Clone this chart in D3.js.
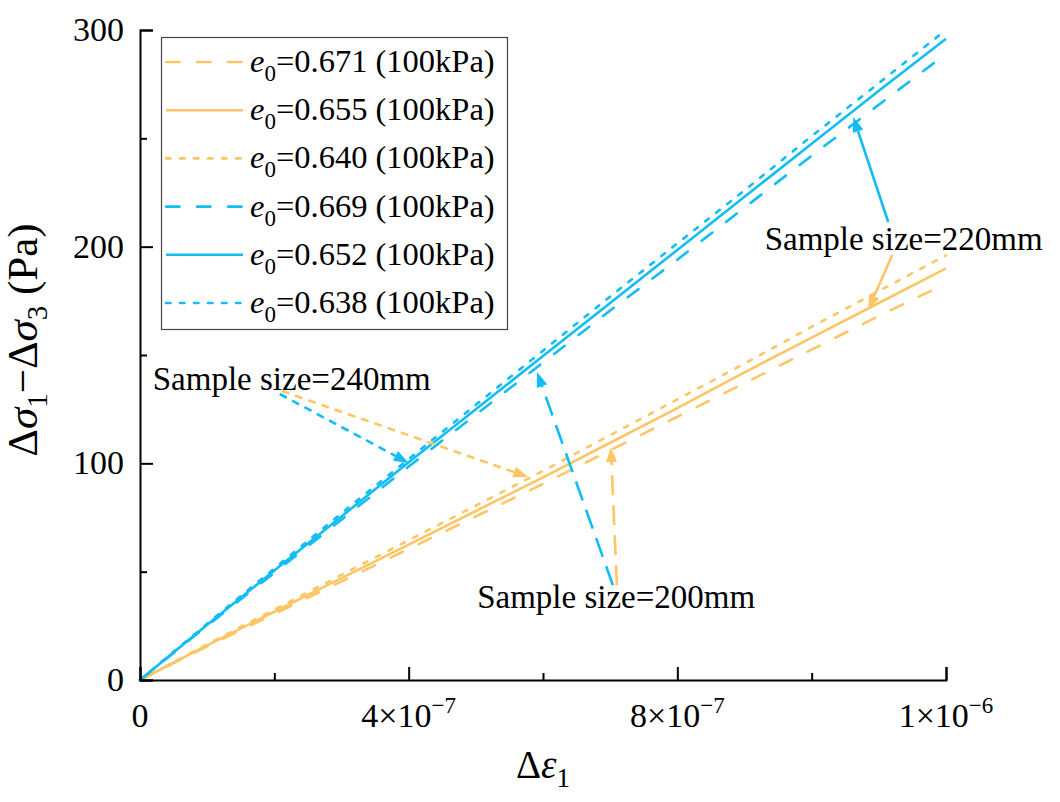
<!DOCTYPE html>
<html>
<head>
<meta charset="utf-8">
<script src="https://cdn.jsdelivr.net/npm/d3@7/dist/d3.min.js"></script>
<style>
  body { margin: 0; background: #fff; }
  text { font-family: "Liberation Serif", "Times New Roman", serif; fill: #000; }
</style>
</head>
<body>
<svg id="chart" width="1060" height="802"></svg>
<script>
// strain values (x), shared by every series
var strain = [0, 1e-7, 2e-7, 3e-7, 4e-7, 5e-7, 6e-7, 7e-7, 8e-7, 9e-7, 1e-6, 1.1e-6, 1.2e-6];

// deviator stress (Pa)
var e671 = [0, 15.5, 30.5, 45.5, 60.5, 75.5, 90.5, 106, 121.5, 137, 152.5, 168, 183];
var e655 = [0, 16, 31.5, 47, 62.5, 78, 93.5, 109.5, 125.5, 142, 158, 174, 190];
var e640 = [0, 16.5, 32.5, 48.5, 64.5, 80.5, 96.5, 113, 129.5, 146, 163, 179.5, 196];
var e669 = [0, 25, 49.5, 74, 98.5, 122.5, 146.5, 170.5, 194, 218, 242, 265.5, 289];
var e652 = [0, 25.5, 50.5, 75.5, 100.5, 125, 149.5, 174, 198.5, 223, 247.5, 272, 296];
var e638 = [0, 26, 51.5, 77, 102, 127, 152, 177, 201.5, 226, 251, 275.5, 300];

var seriesNames = ["0.671", "0.655", "0.640", "0.669", "0.652", "0.638"];
var seriesValues = [e671, e655, e640, e669, e652, e638];

var xTicks = [0, 4e-7, 8e-7, 1.2e-6];
var xTickBase = ["0", "4×10", "8×10", "1×10"];
var xTickExp = ["", "−7", "−7", "−6"];
var xMinor = [2e-7, 6e-7, 1e-6];
var yTicks = [0, 100, 200, 300];
var yMinor = [50, 150, 250];

var orange = "#fcc666", blue = "#12bdf4";
var colors = [orange, orange, orange, blue, blue, blue];
// solid / long dash / short dash
var dashes = ["13.5,17.5", null, "4.5,9.5", "13.5,17.5", null, "4.5,9.5"];

var svg = d3.select("#chart");

var x = d3.scaleLinear().domain([0, 1.2e-6]).range([140, 946]);
var y = d3.scaleLinear().domain([0, 300]).range([680, 30]);

//lines
var line = d3.line()
    .x(function (d, i) { return x(strain[i]); })
    .y(function (d) { return y(d); });

seriesValues.forEach(function (vals, k) {
    svg.append("path")
        .attr("d", line(vals))
        .attr("fill", "none")
        .attr("stroke", colors[k])
        .attr("stroke-width", 2.6)
        .attr("stroke-linecap", dashes[k] ? "round" : "butt")
        .attr("stroke-dasharray", dashes[k]);
});

//axes
var xAxis = svg.append("g").attr("transform", "translate(0,680)");
xAxis.call(d3.axisBottom(x).tickValues(xTicks).tickSize(-13).tickFormat(""));
xAxis.append("g").call(d3.axisBottom(x).tickValues(xMinor).tickSize(-7).tickFormat(""));
var yAxis = svg.append("g").attr("transform", "translate(140,0)");
yAxis.call(d3.axisLeft(y).tickValues(yTicks).tickSize(-13).tickFormat(""));
yAxis.append("g").call(d3.axisLeft(y).tickValues(yMinor).tickSize(-7).tickFormat(""));
svg.selectAll(".domain").attr("stroke", "#000").attr("stroke-width", 2);
svg.selectAll(".tick line").attr("stroke", "#000").attr("stroke-width", 2);
svg.selectAll("g g .domain").remove();

// tick labels
xTicks.forEach(function (v, i) {
    var t = svg.append("text")
        .attr("x", x(v)).attr("y", 727)
        .attr("text-anchor", "middle")
        .attr("font-size", 34)
        .text(xTickBase[i]);
    if (xTickExp[i]) {
        t.append("tspan").attr("dy", -14).attr("font-size", 23).text(xTickExp[i]);
    }
});
yTicks.forEach(function (v) {
    svg.append("text")
        .attr("x", 124).attr("y", y(v) + 11)
        .attr("text-anchor", "end")
        .attr("font-size", 34)
        .text(v);
});

// axis titles
var xt = svg.append("text").attr("x", 543).attr("y", 778)
    .attr("text-anchor", "middle").attr("font-size", 39);
xt.append("tspan").text("Δ");
xt.append("tspan").attr("font-style", "italic").text("ε");
xt.append("tspan").attr("dy", 9).attr("font-size", 27).text("1");

var yt = svg.append("text")
    .attr("transform", "translate(37,340) rotate(-90)")
    .attr("text-anchor", "middle").attr("font-size", 43);
yt.append("tspan").text("Δ");
yt.append("tspan").attr("font-style", "italic").text("σ");
yt.append("tspan").attr("dy", 10).attr("font-size", 29).text("1");
yt.append("tspan").attr("dy", -10).text("−Δ");
yt.append("tspan").attr("font-style", "italic").text("σ");
yt.append("tspan").attr("dy", 10).attr("font-size", 29).text("3");
yt.append("tspan").attr("dy", -10).text(" (Pa)");

// legend
var lg = svg.append("g");
lg.append("rect")
    .attr("x", 161.5).attr("y", 37.5).attr("width", 346).attr("height", 292)
    .attr("fill", "#fff").attr("stroke", "#444").attr("stroke-width", 1.2);
seriesNames.forEach(function (name, k) {
    var ry = 62 + k * 48.2;
    lg.append("line")
        .attr("x1", 166).attr("x2", 243).attr("y1", ry).attr("y2", ry)
        .attr("stroke", colors[k]).attr("stroke-width", 2.6)
        .attr("stroke-linecap", dashes[k] ? "round" : "butt")
        .attr("stroke-dasharray", dashes[k]);
    var t = lg.append("text").attr("x", 250).attr("y", ry + 10).attr("font-size", 32.5);
    t.append("tspan").attr("font-style", "italic").text("e");
    t.append("tspan").attr("dy", 9).attr("font-size", 23).text("0");
    t.append("tspan").attr("dy", -9).text("=" + name + " (100kPa)");
});

// annotations, in data units
var notes = [
    { text: "Sample size=240mm", tx: 1.9e-8, ty: 134 },
    { text: "Sample size=200mm", tx: 5.02e-7, ty: 33.2 },
    { text: "Sample size=220mm", tx: 9.3e-7, ty: 198.5 }
];
var arrows = [
    { x1: 2.08e-7, y1: 132, x2: 4.0e-7, y2: 100.2, c: blue, dash: "8,6" },
    { x1: 2.11e-7, y1: 133.4, x2: 5.78e-7, y2: 93.7, c: orange, dash: "8,6" },
    { x1: 7.04e-7, y1: 43.8, x2: 5.91e-7, y2: 142.2, c: blue, dash: "20,10" },
    { x1: 7.10e-7, y1: 43.8, x2: 7.01e-7, y2: 107.5, c: orange, dash: "20,10" },
    { x1: 1.114e-6, y1: 211.4, x2: 1.062e-6, y2: 259.8, c: blue, dash: null },
    { x1: 1.120e-6, y1: 196.2, x2: 1.084e-6, y2: 170.8, c: orange, dash: null }
];

arrows.forEach(function (a) {
    var px1 = x(a.x1), py1 = y(a.y1), px2 = x(a.x2), py2 = y(a.y2);
    var dx = px2 - px1, dy = py2 - py1, len = Math.sqrt(dx * dx + dy * dy);
    var ux = dx / len, uy = dy / len, hl = 15, hw = 5.5;
    var bx = px2 - ux * hl, by = py2 - uy * hl;
    svg.append("line")
        .attr("x1", px1).attr("y1", py1).attr("x2", bx).attr("y2", by)
        .attr("stroke", a.c).attr("stroke-width", 2.6)
        .attr("stroke-dasharray", a.dash);
    svg.append("path")
        .attr("d", "M" + px2 + "," + py2 +
            "L" + (bx - uy * hw) + "," + (by + ux * hw) +
            "L" + (bx + uy * hw) + "," + (by - ux * hw) + "Z")
        .attr("fill", a.c);
});

notes.forEach(function (n) {
    svg.append("text")
        .attr("x", x(n.tx)).attr("y", y(n.ty))
        .attr("font-size", 33)
        .text(n.text);
});
</script>
</body>
</html>
